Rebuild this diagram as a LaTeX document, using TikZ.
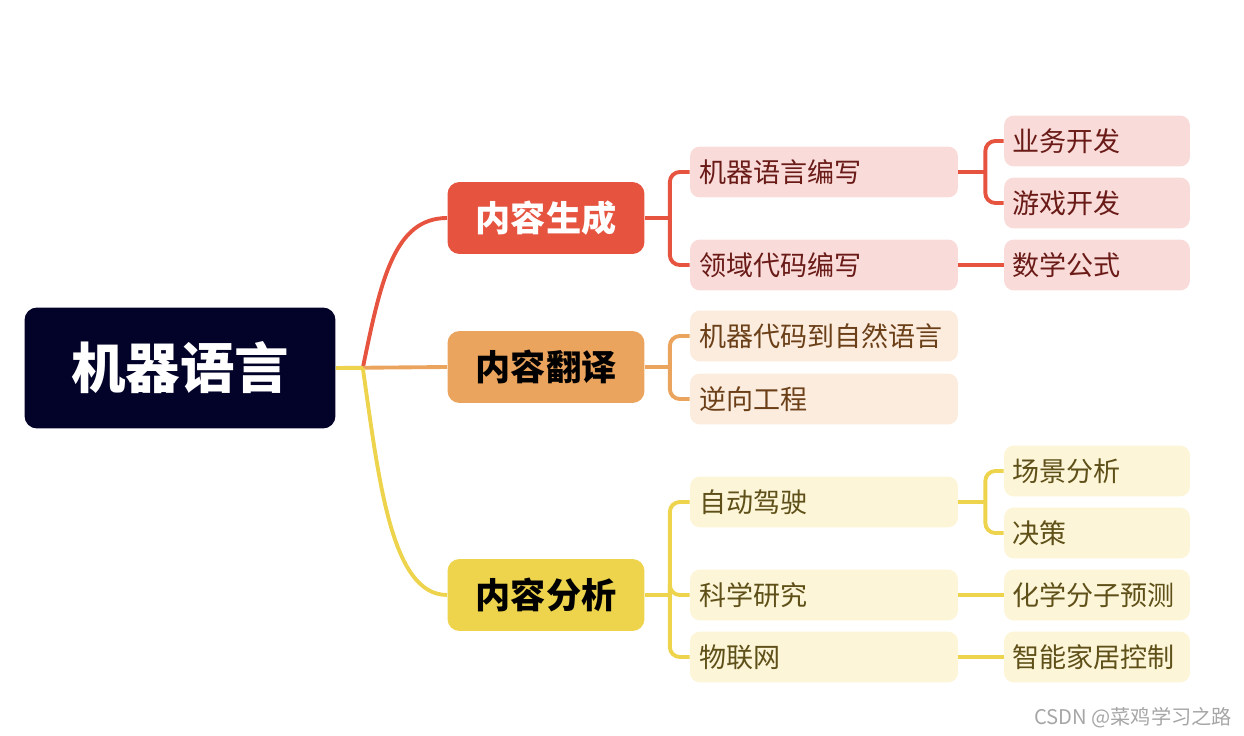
\documentclass[tikz,border=0pt]{standalone}
\usepackage{fontspec}
\usepackage{xcolor}
\usepackage{tikz}
\usetikzlibrary{calc,positioning}
\newfontfamily\cjk{Noto Sans CJK SC}
\definecolor{fondoraiz}{HTML}{03032A}
\definecolor{rojo}{HTML}{E6533F}
\definecolor{naranja}{HTML}{EBA45D}
\definecolor{amarillo}{HTML}{EDD44C}
\definecolor{rojoclaro}{HTML}{F9DCDA}
\definecolor{naranjaclaro}{HTML}{FBECDE}
\definecolor{amarilloclaro}{HTML}{FDF5D8}
\definecolor{textorojo}{HTML}{6A1B17}
\definecolor{textonaranja}{HTML}{6B3F18}
\definecolor{textoamarillo}{HTML}{5E5018}
\tikzset{
  caja/.style={rounded corners=0.2cm,inner sep=0pt,font=\cjk},
  raiz/.style={caja,rounded corners=0.25cm,fill=fondoraiz,text=white,minimum width=6.22cm,minimum height=2.42cm,font=\cjk\bfseries\fontsize{31}{31}\selectfont},
  tema/.style={caja,rounded corners=0.24cm,minimum width=3.94cm,minimum height=1.44cm,font=\cjk\bfseries\fontsize{20}{20}\selectfont},
  sub/.style={caja,minimum height=1.02cm,inner xsep=0.18cm,text width=5.0cm,align=left,font=\cjk\fontsize{15.4}{16}\selectfont},
  hoja/.style={sub,inner xsep=0.16cm,text width=3.4cm},
  linea/.style={line width=2.2pt},
  codo/.style={linea,rounded corners=0.2cm}
}
\begin{document}
\begin{tikzpicture}[x=0.02cm,y=-0.02cm]
\useasboundingbox (0,0) rectangle (1244,736);
% raiz y temas
\node[raiz] (mq) at (180,368) {机器语言};
\node[tema,fill=rojo,text=white] (gen) at (546,218) {内容生成};
\node[tema,fill=naranja,text=black] (tra) at (546,367) {内容翻译};
\node[tema,fill=amarillo,text=black] (ana) at (546,595) {内容分析};
% segundo nivel
\node[sub,fill=rojoclaro,text=textorojo] (esc) at (824,172) {机器语言编写};
\node[sub,fill=rojoclaro,text=textorojo] (dom) at (824,265) {领域代码编写};
\node[sub,fill=naranjaclaro,text=textonaranja] (nat) at (824,336) {机器代码到自然语言};
\node[sub,fill=naranjaclaro,text=textonaranja] (inv) at (824,399) {逆向工程};
\node[sub,fill=amarilloclaro,text=textoamarillo] (aut) at (824,502) {自动驾驶};
\node[sub,fill=amarilloclaro,text=textoamarillo] (cie) at (824,595) {科学研究};
\node[sub,fill=amarilloclaro,text=textoamarillo] (iot) at (824,657) {物联网};
% tercer nivel
\node[hoja,fill=rojoclaro,text=textorojo] (neg) at (1097,141) {业务开发};
\node[hoja,fill=rojoclaro,text=textorojo] (jue) at (1097,203) {游戏开发};
\node[hoja,fill=rojoclaro,text=textorojo] (mat) at (1097,265) {数学公式};
\node[hoja,fill=amarilloclaro,text=textoamarillo] (esce) at (1097,471) {场景分析};
\node[hoja,fill=amarilloclaro,text=textoamarillo] (dec) at (1097,533) {决策};
\node[hoja,fill=amarilloclaro,text=textoamarillo] (qui) at (1097,595) {化学分子预测};
\node[hoja,fill=amarilloclaro,text=textoamarillo] (casa) at (1097,657) {智能家居控制};
% ramas desde la raiz
\coordinate (j0) at ($(mq.east)+(27,0)$);
\draw[linea,rojo] (j0) .. controls +(18,-88) and +(-53,0) .. (gen.west);
\draw[linea,naranja] (mq.east) -- (tra.west);
\draw[linea,amarillo] (j0) .. controls +(16,112) and +(-56,0) .. (ana.west);
\draw[linea,amarillo] (mq.east) -- (j0);
% corchetes
\coordinate (jg) at ($(gen.east)+(25,0)$);
\draw[linea,rojo] (gen.east) -- (jg);
\draw[codo,rojo] (jg) |- (esc.west);
\draw[codo,rojo] (jg) |- (dom.west);
\coordinate (jt) at ($(tra.east)+(25,0)$);
\draw[linea,naranja] (tra.east) -- (jt);
\draw[codo,naranja] (jt) |- (nat.west);
\draw[codo,naranja] (jt) |- (inv.west);
\coordinate (ja) at ($(ana.east)+(25,0)$);
\draw[linea,amarillo] (ana.east) -- (ja);
\draw[codo,amarillo] (ja) |- (aut.west);
\draw[codo,amarillo] (ja) |- (cie.west);
\draw[codo,amarillo] (ja) |- (iot.west);
\coordinate (je) at ($(esc.east)+(27,0)$);
\draw[linea,rojo] (esc.east) -- (je);
\draw[codo,rojo] (je) |- (neg.west);
\draw[codo,rojo] (je) |- (jue.west);
\draw[linea,rojo] (dom.east) -- (mat.west);
\coordinate (jd) at ($(aut.east)+(27,0)$);
\draw[linea,amarillo] (aut.east) -- (jd);
\draw[codo,amarillo] (jd) |- (esce.west);
\draw[codo,amarillo] (jd) |- (dec.west);
\draw[linea,amarillo] (cie.east) -- (qui.west);
\draw[linea,amarillo] (iot.east) -- (casa.west);
% marca de agua
\node[font=\cjk\fontsize{11.5}{12}\selectfont,text=gray!70] (marca) at (1133,718) {CSDN @菜鸡学习之路};
\end{tikzpicture}
\end{document}
